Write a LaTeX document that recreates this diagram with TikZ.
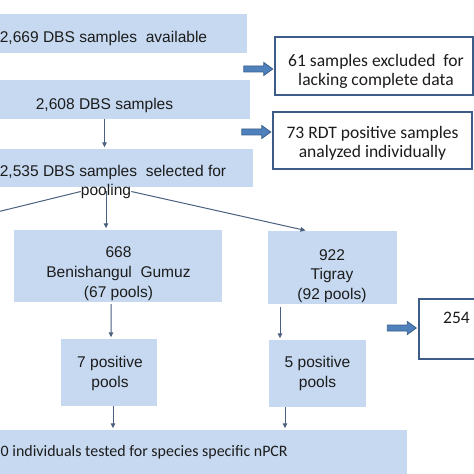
\documentclass[tikz,border=0pt]{standalone}
\usepackage{fontspec}
\setmainfont{Liberation Sans}
\newfontfamily\calfont{Carlito}
\usetikzlibrary{arrows.meta}
\definecolor{boxfill}{RGB}{198,217,240}
\definecolor{edgec}{RGB}{61,93,136}
\definecolor{arrfill}{RGB}{79,129,189}
\definecolor{arrdraw}{RGB}{56,93,138}
\definecolor{connc}{RGB}{74,96,126}
\definecolor{ink}{RGB}{28,28,28}
\begin{document}
\begin{tikzpicture}[x=1bp,y=-1bp,
  bluebox/.style={fill=boxfill, draw=none, inner sep=0},
  whitebox/.style={draw=edgec, line width=1.5bp, fill=white, inner sep=0},
  atxt/.style={inner sep=0, text=ink, align=center, anchor=base, font=\fontsize{15.6}{19.8}\selectfont},
  ctxt/.style={inner sep=0, text=ink, align=center, anchor=base, font=\calfont\fontsize{17.6}{19.7}\selectfont},
  conn/.style={draw=connc, line width=1bp, -{Triangle[length=5bp,width=4.5bp]}, shorten >=1.5bp},
  blockarrow/.style={fill=arrfill, draw=arrdraw, line width=0.8bp, line join=miter}
]
\useasboundingbox (0,0) rectangle (474,474);
\clip (0,0) rectangle (474,474);

% blue boxes
\node[bluebox, minimum width=287bp, minimum height=39bp] (b1) at (103.5,33.5) {};
\node[bluebox, minimum width=291bp, minimum height=39bp] (b2) at (104.5,99.5) {};
\node[bluebox, minimum width=294bp, minimum height=38bp] (b3) at (106,168) {};
\node[bluebox, minimum width=208bp, minimum height=72bp] (bg) at (118,266) {};
\node[bluebox, minimum width=129bp, minimum height=73bp] (tig) at (332.5,267.5) {};
\node[bluebox, minimum width=96bp, minimum height=67bp] (p7) at (109,372.5) {};
\node[bluebox, minimum width=97bp, minimum height=67bp] (p5) at (317.5,373.5) {};
\node[bluebox, minimum width=467bp, minimum height=70bp] (fin) at (173.5,465) {};

% white boxes
\node[whitebox, minimum width=198bp, minimum height=58bp] (ex) at (374,66) {};
\node[whitebox, minimum width=199bp, minimum height=57bp] (rdt) at (372.5,140.5) {};
\node[whitebox, minimum width=90bp, minimum height=60bp] (n254) at (464,329) {};

% texts (multi-line nodes: base = baseline of last line)
\node[atxt] (t1) at (103.5,42.5) {2,669 DBS samples\ \ available};
\node[atxt] (t2) at (104.5,109.3) {2,608 DBS samples};
\node[atxt] (t3) at (113,176.7) {2,535 DBS samples\ \ selected for};
\node[atxt, anchor=center] (pool) at (106,191.5) {pooling};
\node[atxt] (tbg) at (118.5,297) {668\\Benishangul\ \ Gumuz\\(67 pools)};
\node[atxt] (ttig) at (332,299.6) {922\\Tigray\\(92 pools)};
\node[atxt] (tp7) at (110,387) {7 positive\\pools};
\node[atxt] (tp5) at (317.5,387.6) {5 positive\\pools};
\node[ctxt] (tex) at (376,85.7) {61 samples excluded\ \ for\\lacking complete data};
\node[ctxt] (trdt) at (372.5,158) {73 RDT positive samples\\analyzed individually};
\node[ctxt] (t254) at (456.5,323.3) {254};
\node[ctxt, anchor=base west, font=\calfont\fontsize{16}{19}\selectfont] (tfin) at (0.5,456.7) {0 individuals tested for species specific nPCR};

% block arrows (tip coordinates next to the target boxes)
\coordinate (ta1) at ([xshift=-1.5bp,yshift=-3bp]ex.west);
\coordinate (ta2) at ([xshift=-1.5bp,yshift=8.5bp]rdt.west);
\coordinate (ta3) at ([xshift=-2bp,yshift=1bp]n254.west);
\foreach \t in {ta1,ta2,ta3}
  \filldraw[blockarrow] (\t) -- ++(-9,-6.5) -- ++(0,3.5) -- ++(-20,0) -- ++(0,6)
    -- ++(20,0) -- ++(0,3.5) -- cycle;

% connectors
\coordinate (offl) at (-60,226);
\draw[conn] (b2.south -| t2.base) -- (b3.north -| t2.base);
\draw[draw=connc, line width=1bp] (pool.west) -- (offl);
\draw[conn] (pool.east) -- ([xshift=-25.5bp]tig.north);
\draw[conn] (pool.center) -- (pool.center |- bg.north);
\draw[conn] ([xshift=-7bp,yshift=-2bp]bg.south) -- ([xshift=2bp]p7.north);
\draw[conn] ([xshift=-37.5bp,yshift=-3bp]p5.north |- tig.south) -- ([xshift=-37.5bp]p5.north);
\draw[conn] ([xshift=4bp]p7.south) -- ([xshift=4bp]p7.south |- fin.north);
\draw[conn] ([xshift=-32.5bp]p5.south) -- ([xshift=-32.5bp]p5.south |- fin.north);
\end{tikzpicture}
\end{document}
